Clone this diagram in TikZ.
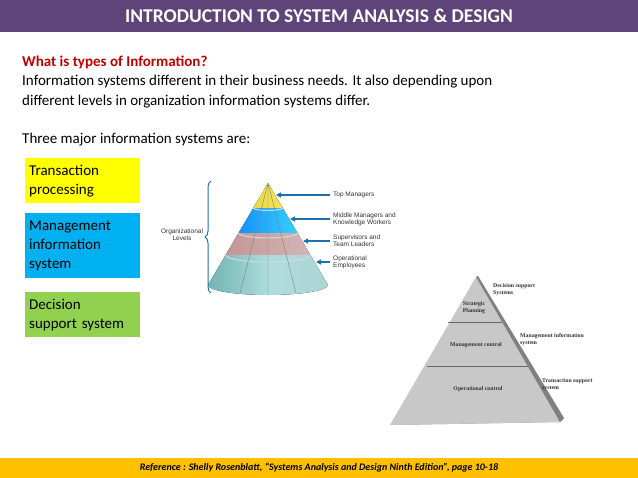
\documentclass[tikz,border=0pt]{standalone}
\usepackage{fontspec}
\setmainfont{Carlito}
\newfontfamily\serifx{Liberation Serif}
\newfontfamily\sansx{Liberation Sans}
\usetikzlibrary{decorations.pathreplacing,arrows.meta}
\definecolor{hdr}{HTML}{5E4479}
\definecolor{ftr}{HTML}{FFC000}
\definecolor{tpy}{HTML}{FFFF00}
\definecolor{mib}{HTML}{00B0F0}
\definecolor{dsg}{HTML}{92D050}
\definecolor{ttl}{HTML}{C00000}
\definecolor{arr}{HTML}{1F6FB0}
\definecolor{pyr}{HTML}{C8C8C8}
\begin{document}
\begin{tikzpicture}[x=1pt,y=-1pt,
  body/.style={anchor=north west,inner sep=0pt,font=\fontsize{15}{20}\selectfont,align=left},
  sysbox/.style={anchor=north west,minimum width=115pt,inner sep=4pt,align=left,font=\fontsize{15}{19}\selectfont,text width=107pt},
  lvl/.style={anchor=west,inner sep=0pt,font=\sansx\fontsize{6.5}{7}\selectfont,align=left,text=black!80},
  pl/.style={inner sep=0pt,font=\serifx\bfseries\fontsize{5.8}{6.8}\selectfont,align=center,text=black!80},
  pr/.style={anchor=north west,inner sep=0pt,font=\serifx\bfseries\fontsize{5.8}{6.8}\selectfont,align=left,text=black!80},
  la/.style={-{Triangle[length=5pt,width=5pt]},arr,line width=2pt}]
\useasboundingbox (0,0) rectangle (638,478);
\fill[white] (0,0) rectangle (638,478);
\fill[hdr] (0,0) rectangle (638,32);
\node[text=white,font=\bfseries\fontsize{19.5}{22}\selectfont] (title) at (319,16) {INTRODUCTION TO SYSTEM ANALYSIS \& DESIGN};
\fill[ftr] (0,458) rectangle (638,478);
\node[font=\bfseries\itshape\fontsize{10}{12}\selectfont] (ref) at (319,468) {Reference : Shelly Rosenblatt, “Systems Analysis and Design Ninth Edition”, page 10-18};
\node[body,text=ttl,font=\bfseries\fontsize{15}{20}\selectfont] (q) at (22,56) {What is types of Information?};
\node[body] (p1) at (22,75) {Information systems different in their business needs. It also depending upon\\different levels in organization information systems differ.};
\node[body] (p2) at (22,133) {Three major information systems are:};
\node[sysbox,fill=tpy,minimum height=45pt] (tp) at (25,158) {Transaction\\processing};
\node[sysbox,fill=mib,minimum height=65pt] (mi) at (25,213) {Management\\information\\system};
\node[sysbox,fill=dsg,minimum height=45pt] (ds) at (25,292) {Decision\\support system};
% cone
\begin{scope}
\clip (268,183) -- (208,285) arc[start angle=180,end angle=360,x radius=60,y radius=-10] -- cycle;
\fill[left color=cyan!30!gray!90,right color=cyan!30!gray!50,middle color=cyan!40!gray!45] (200,255) rectangle (340,300);
\fill[left color=red!30!gray!70,right color=red!20!gray!40] (200,233) rectangle (340,255);
\fill[left color=blue!60!cyan,right color=cyan!70] (200,208) rectangle (340,233);
\fill[left color=yellow!50!brown,right color=yellow!50] (200,180) rectangle (340,208);
\foreach \y/\r in {208/14.7,233/29.4,255/42.4}{\draw[white!70!gray,line width=1pt] (268-\r*1,\y) arc[start angle=180,end angle=360,x radius=\r,y radius=-\r/6];}
\draw[black!50,line width=0.4pt] (268,183) -- (240,293) (268,183) -- (268,295) (268,183) -- (296,293);
\end{scope}
\draw[decorate,decoration={brace,amplitude=6pt},arr,line width=1pt] (211,293) -- (211,181);
\node[lvl,anchor=center,align=center] (ol) at (182,235) {Organizational\\Levels};
\coordinate (c1) at (276,195); \coordinate (c2) at (290,219); \coordinate (c3) at (303,241); \coordinate (c4) at (316,262);
\node[lvl] (l1) at (333,195) {Top Managers};
\node[lvl] (l2) at (333,219) {Middle Managers and\\Knowledge Workers};
\node[lvl] (l3) at (333,241) {Supervisors and\\Team Leaders};
\node[lvl] (l4) at (333,262) {Operational\\Employees};
\foreach \i in {1,...,4}{\draw[la] ([xshift=-3pt]l\i.west) -- (c\i);}
% pyramid
\fill[black!45] (390,425) -- (560,422) -- (564,418) -- (394,421) -- cycle;
\fill[pyr] (476,277) -- (390,425) -- (560,422) -- cycle;
\fill[black!50] (476,277) -- (560,422) -- (564,418) -- (478,276) -- cycle;
\draw[black!60,line width=0.6pt] (448,322) -- (502,322) (427,366) -- (528,366);
\node[pl] (sp) at (474,308) {Strategic\\Planning};
\node[pl] (mc) at (476,345) {Management control};
\node[pl] (oc) at (478,389) {Operational control};
\node[pr] (r1) at (493,283) {Decision support\\Systems};
\node[pr] (r2) at (520,333) {Management information\\system};
\node[pr] (r3) at (542,378) {Transaction support\\system};
\end{tikzpicture}
\end{document}
